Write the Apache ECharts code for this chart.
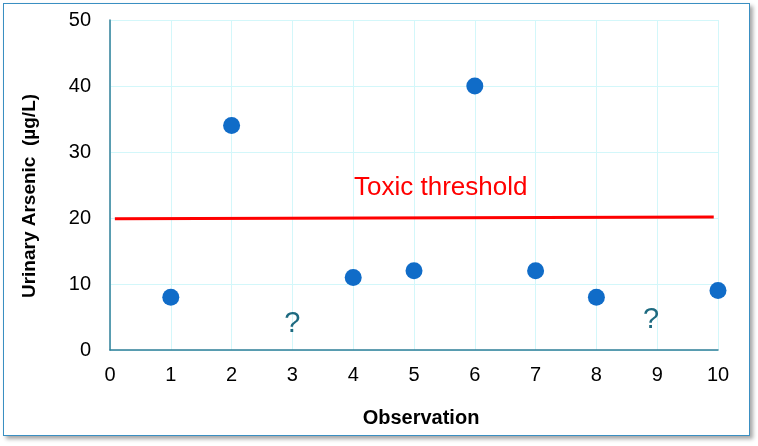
<!DOCTYPE html>
<html>
<head>
<meta charset="utf-8">
<script src="https://cdn.jsdelivr.net/npm/echarts@6/dist/echarts.min.js"></script>
<style>
html,body{margin:0;padding:0;background:#fff;}
#frame{position:absolute;left:3px;top:3px;width:745px;height:431px;border:1px solid #3a8fc2;box-shadow:3px 3px 4px rgba(0,0,0,0.35);background:#fff;}
#chart{position:absolute;left:0;top:0;width:758px;height:446px;}
</style>
</head>
<body>
<div id="frame"></div>
<div id="chart"></div>
<script>
const observations = [1, 2, 4, 5, 6, 7, 8, 10];
const arsenic = [8, 34, 11, 12, 40, 12, 8, 9];
const thresholdX = [0.08, 9.93];
const thresholdY = [19.9, 20.15];
const thresholdLabel = 'Toxic threshold';
const thresholdLabelPos = [5.44, 24.6];
const unknownX = [3, 8.9];
const unknownY = [3.9, 4.6];
const xTicks = [0, 10, 1];
const yTicks = [0, 50, 10];
const xTitle = 'Observation';
const yTitle = 'Urinary Arsenic  (µg/L)';

const chart = echarts.init(document.getElementById('chart'), null, {renderer: 'canvas'});
const font = '"Liberation Sans", Arial, sans-serif';
chart.setOption({
  animation: false,
  backgroundColor: 'transparent',
  grid: {left: 110, right: 40, top: 20, bottom: 96, containLabel: false},
  graphic: [
    {type: 'text', x: 421, y: 418,
      style: {text: xTitle, font: 'bold 20px ' + font, fill: '#000', align: 'center', verticalAlign: 'middle'}},
    {type: 'text', x: 30, y: 196, rotation: Math.PI / 2,
      style: {text: yTitle, font: 'bold 19px ' + font, fill: '#000', align: 'center', verticalAlign: 'middle'}}
  ],
  xAxis: {
    type: 'value', min: xTicks[0], max: xTicks[1], interval: xTicks[2],
    axisLine: {show: true, lineStyle: {color: '#2f7f98', width: 1.5}},
    axisTick: {show: false},
    axisLabel: {fontFamily: font, fontSize: 20, color: '#000', margin: 15},
    splitLine: {show: true, lineStyle: {color: '#d3f7fa', width: 1}}
  },
  yAxis: {
    type: 'value', min: yTicks[0], max: yTicks[1], interval: yTicks[2],
    axisLine: {show: true, lineStyle: {color: '#2f7f98', width: 1.5}},
    axisTick: {show: false},
    axisLabel: {fontFamily: font, fontSize: 20, color: '#000', margin: 19},
    splitLine: {show: true, lineStyle: {color: '#d3f7fa', width: 1}}
  },
  series: [
    {
      type: 'line',
      data: thresholdX.map((x, i) => [x, thresholdY[i]]),
      symbol: 'none',
      lineStyle: {color: '#ff0000', width: 3, opacity: 1},
      z: 3
    },
    {
      type: 'scatter',
      data: [thresholdLabelPos],
      symbolSize: 0,
      itemStyle: {opacity: 1},
      label: {show: true, position: 'inside', formatter: thresholdLabel,
        fontFamily: font, fontSize: 26, color: '#ff0000', opacity: 1},
      z: 4
    },
    {
      type: 'scatter',
      data: unknownX.map((x, i) => [x, unknownY[i]]),
      symbolSize: 0,
      itemStyle: {opacity: 1},
      label: {show: true, position: 'inside', formatter: '?',
        fontFamily: font, fontSize: 29, color: '#1d6a80', opacity: 1},
      z: 4
    },
    {
      type: 'scatter',
      data: observations.map((x, i) => [x, arsenic[i]]),
      symbol: 'circle',
      symbolSize: 17,
      itemStyle: {color: '#106cc8', opacity: 1},
      z: 5
    }
  ]
});
</script>
</body>
</html>
